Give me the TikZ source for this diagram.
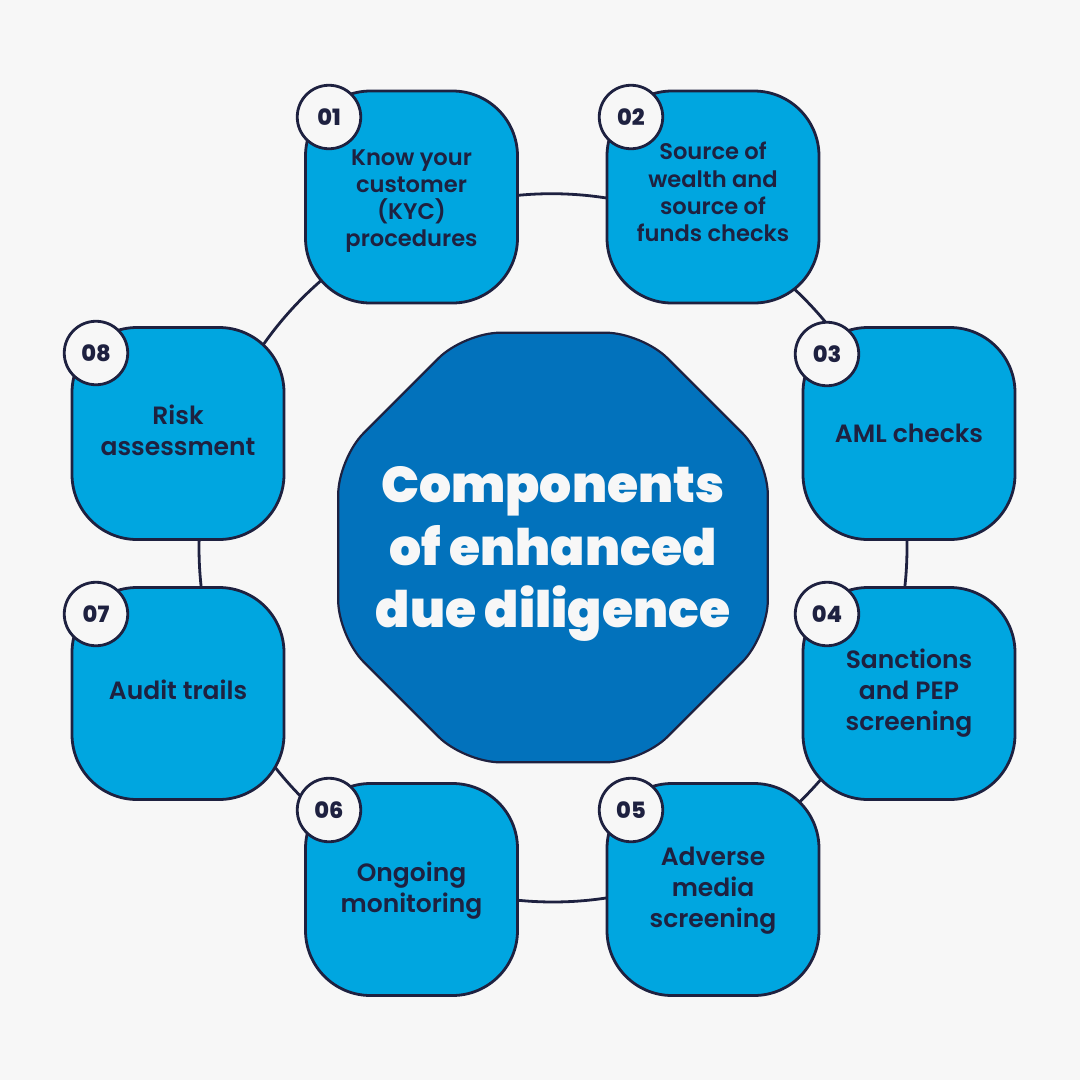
\documentclass[tikz,border=0pt]{standalone}
\usepackage{fontspec}
\setmainfont{Poppins SemiBold}
\newfontfamily\titlefont{Poppins Black}
\newfontfamily\numfont{Poppins ExtraBold}
\usetikzlibrary{shapes.geometric,backgrounds}
\definecolor{bgc}{HTML}{F7F7F7}
\definecolor{ink}{HTML}{1E2140}
\definecolor{cardc}{HTML}{00A6E0}
\definecolor{hubc}{HTML}{0272BC}
\tikzset{
  x=1pt,y=1pt,
  card/.style={draw=ink,fill=cardc,line width=2.8pt,rounded corners=65pt,minimum width=212pt,minimum height=212pt,inner sep=0pt},
  cardtext/.style={inner sep=0pt,align=center,text=ink},
  big/.style={font=\fontsize{25}{31}\selectfont},
  small/.style={font=\fontsize{22.6}{27.2}\selectfont},
  badge/.style={circle,draw=ink,fill=bgc,line width=2.8pt,minimum size=63.5pt,inner sep=0pt,text=ink,font=\numfont\fontsize{22.5}{24}\selectfont},
  hub/.style={regular polygon,regular polygon sides=8,draw=ink,fill=hubc,line width=2.2pt,rounded corners=36pt,minimum size=465pt,inner sep=0pt},
  hubtext/.style={inner sep=0pt,align=center,text=bgc,font=\titlefont\fontsize{50.4}{62.8}\selectfont},
  ringline/.style={draw=ink,line width=2.8pt,looseness=0.86}
}
\begin{document}
\begin{tikzpicture}
\useasboundingbox (0,0) rectangle (1080,-1080);
\begin{scope}[on background layer]
\fill[bgc] (0,0) rectangle (1080,-1080);
\end{scope}
\node[hub] (hub) at (553,-547.5) {};
\node[hubtext] (title) at (553,-554) {Components\\of enhanced\\due diligence};
\node[card] (n1) at (411.5,-197) {};
\node[card] (n2) at (713,-197) {};
\node[card] (n3) at (909,-433.5) {};
\node[card] (n4) at (909,-693.5) {};
\node[card] (n5) at (713,-889.5) {};
\node[card] (n6) at (411.5,-889.5) {};
\node[card] (n7) at (178,-693.5) {};
\node[card] (n8) at (178,-433.5) {};
\node[cardtext,small] (t1) at (411.5,-201) {Know your\\customer\\(KYC)\\procedures};
\node[cardtext,small] (t2) at (713,-192) {Source of\\wealth and\\source of\\funds checks};
\node[cardtext,big] (t3) at (909,-433.5) {AML checks};
\node[cardtext,big] (t4) at (909,-693.5) {Sanctions\\and PEP\\screening};
\node[cardtext,big] (t5) at (713,-890.5) {Adverse\\media\\screening};
\node[cardtext,big] (t6) at (411.5,-890.5) {Ongoing\\monitoring};
\node[cardtext,big] (t7) at (178,-689.5) {Audit trails};
\node[cardtext,big] (t8) at (178,-430.5) {Risk\\assessment};
\node[badge] (b1) at (329,-117) {01};
\node[badge] (b2) at (631,-117) {02};
\node[badge] (b3) at (827,-354) {03};
\node[badge] (b4) at (827,-614) {04};
\node[badge] (b5) at (631,-810) {05};
\node[badge] (b6) at (329,-810) {06};
\node[badge] (b7) at (96,-614) {07};
\node[badge] (b8) at (96,-353) {08};
\begin{scope}[on background layer]
\draw[ringline] ([xshift=92pt]n1.center) to[bend left=9.5] ([xshift=-92.5pt,yshift=-3.5pt]n2.center);
\draw[ringline] ([xshift=67.5pt,yshift=-79.8pt]n2.center) to[bend left=6.5] ([xshift=-73.3pt,yshift=98.5pt]n3.center);
\draw[ringline] ([xshift=-2.5pt,yshift=-96pt]n3.center) to[bend left=6] ([xshift=-6.4pt,yshift=90.1pt]n4.center);
\draw[ringline] ([xshift=-73.3pt,yshift=-67.5pt]n4.center) to[bend left=6.5] ([xshift=67.5pt,yshift=70.3pt]n5.center);
\draw[ringline] ([xshift=-92.5pt,yshift=-6pt]n5.center) to[bend left=11] ([xshift=74pt,yshift=-6pt]n6.center);
\draw[ringline] ([xshift=-90.7pt,yshift=74.3pt]n6.center) to[bend left=7] ([xshift=85pt,yshift=-57.5pt]n7.center);
\draw[ringline] ([xshift=25.4pt,yshift=90.1pt]n7.center) to[bend left=6.5] ([xshift=21.9pt,yshift=-89.8pt]n8.center);
\draw[ringline] ([xshift=74.8pt,yshift=73pt]n8.center) to[bend left=10] ([xshift=-76.4pt,yshift=-72pt]n1.center);
\end{scope}
\end{tikzpicture}
\end{document}
